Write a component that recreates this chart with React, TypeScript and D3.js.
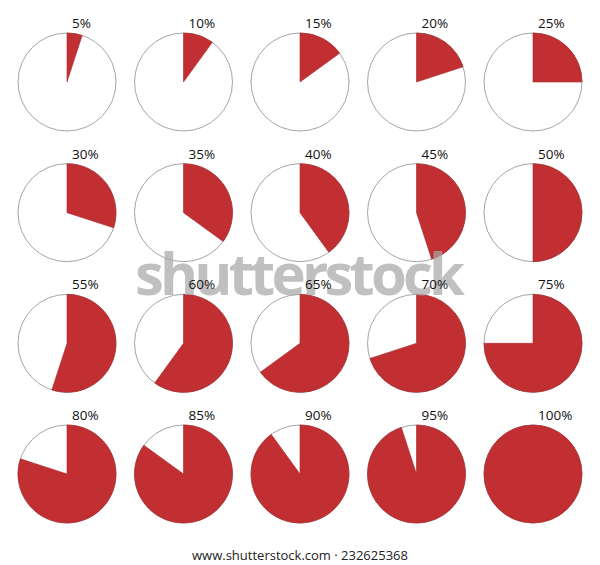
import React, { useEffect, useRef } from 'react';
import * as d3 from 'd3';

// percentage shown by each small pie, row by row
const percents = [5, 10, 15, 20, 25, 30, 35, 40, 45, 50, 55, 60, 65, 70, 75, 80, 85, 90, 95, 100];
const labels = percents.map(p => `${p}%`);
const columns = [0, 1, 2, 3, 4];
const rows = [0, 1, 2, 3];

const W = 600;
const H = 565;

export default function App() {
  const ref = useRef<SVGSVGElement>(null);

  useEffect(() => {
    if (!ref.current) return;
    const svg = d3.select(ref.current);
    svg.selectAll('*').remove();

    const x = d3.scalePoint<number>().domain(columns).range([67, 533]);
    const y = d3.scalePoint<number>().domain(rows).range([82, 474]);
    const r = 49;

    const pie = d3.pie<number>().sort(null).value(d => d);
    const arc = d3.arc<d3.PieArcDatum<number>>().innerRadius(0).outerRadius(r);

    const cells = svg.append('g');
    const mark = svg.append('g');
    const labelLayer = svg.append('g');

    percents.forEach((p, i) => {
      const cx = x(i % 5)!;
      const cy = y(Math.floor(i / 5))!;
      const g = cells.append('g').attr('transform', `translate(${cx},${cy})`);

      g.append('circle').attr('r', r).attr('fill', '#fff').attr('stroke', '#9a9a9a').attr('stroke-width', 0.9);
      g.selectAll('path').data(pie([p, 100 - p]).slice(0, 1)).enter().append('path')
        .attr('d', arc as any)
        .attr('fill', '#c22f32')
        .attr('stroke', '#a8282b')
        .attr('stroke-width', 0.6)
        .attr('stroke-linejoin', 'round');

      labelLayer.append('text')
        .attr('x', cx + 5)
        .attr('y', cy - r - 5)
        .attr('font-family', '"Open Sans", sans-serif')
        .attr('font-size', 13.5)
        .attr('fill', '#111')
        .text(labels[i]);
    });

    // watermark, under the labels
    mark.append('text')
      .attr('x', 135).attr('y', 295)
      .attr('textLength', 330)
      .attr('lengthAdjust', 'spacing')
      .attr('font-family', '"Open Sans", sans-serif')
      .attr('font-weight', 700)
      .attr('font-size', 58)
      .attr('fill', '#a8a8a8')
      .attr('fill-opacity', 0.72)
      .text('shutterstock');

    svg.append('text')
      .attr('x', W / 2).attr('y', 560)
      .attr('text-anchor', 'middle')
      .attr('font-family', '"Open Sans", sans-serif')
      .attr('font-size', 13)
      .attr('fill', '#222')
      .text('www.shutterstock.com · 232625368');
  }, []);

  return (
    <svg ref={ref} width={W} height={H} style={{ position: 'absolute', left: 0, top: 0, background: '#fff' }} />
  );
}
